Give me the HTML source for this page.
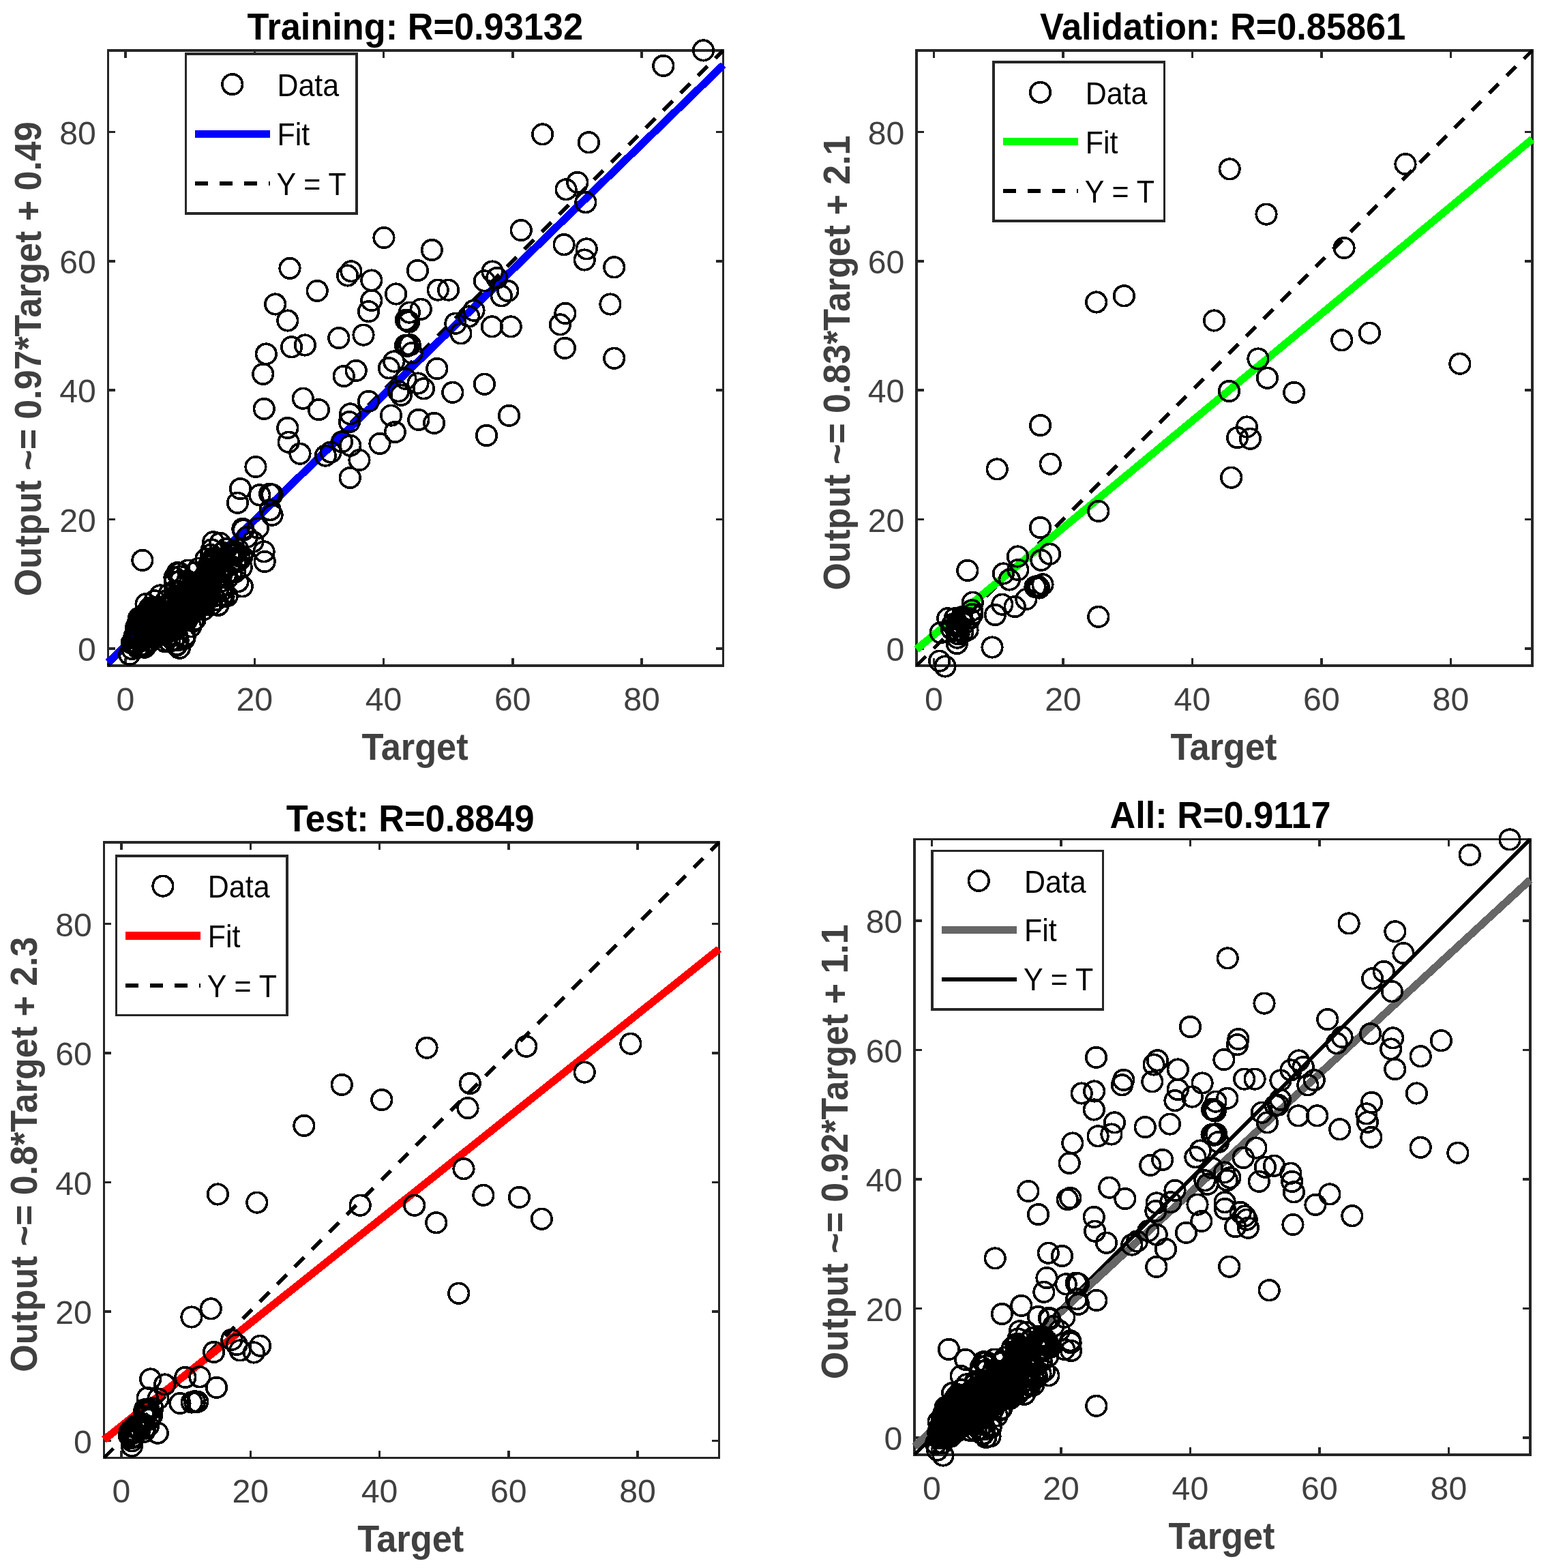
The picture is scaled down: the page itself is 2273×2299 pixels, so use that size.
<!DOCTYPE html>
<html lang="en"><head><meta charset="utf-8"><title>Regression plots</title>
<style>
html,body{margin:0;padding:0;background:#fff;}
body{width:2273px;height:2299px;overflow:hidden;}
svg{display:block;}
text{font-family:"Liberation Sans",Arial,Helvetica,sans-serif;}
.tk{font-size:49px;fill:#404040;}
.lb{font-size:55px;font-weight:bold;fill:#404040;}
.tt{font-size:55px;font-weight:bold;fill:#000;}
.lg{font-size:46.2px;fill:#000;}
.ax{stroke:#262626;stroke-width:3.5;fill:none;}
.d circle{r:14.75px;}
.d{fill:none;stroke:#000;stroke-width:3.7;}
</style></head><body>
<svg xmlns="http://www.w3.org/2000/svg" width="2273" height="2299" viewBox="0 0 2273 2299" shape-rendering="crispEdges">
<rect x="0" y="0" width="2273" height="2299" fill="#ffffff"/>
<g id="panel1">
<path class="ax" d="M158.5 74H1060.5V976H158.5Z"/>
<path class="ax" d="M184 976v-10.8M184 74v10.8M158.5 951h10.8M1060.5 951h-10.8M373.3 976v-10.8M373.3 74v10.8M158.5 761.6h10.8M1060.5 761.6h-10.8M562.5 976v-10.8M562.5 74v10.8M158.5 572.2h10.8M1060.5 572.2h-10.8M751.8 976v-10.8M751.8 74v10.8M158.5 382.9h10.8M1060.5 382.9h-10.8M941 976v-10.8M941 74v10.8M158.5 193.5h10.8M1060.5 193.5h-10.8"/>
<text class="tk" text-anchor="middle" transform="translate(184 1041.6) scale(0.985 1)">0</text>
<text class="tk" text-anchor="end" transform="translate(140.9 969) scale(0.985 1)">0</text>
<text class="tk" text-anchor="middle" transform="translate(373.3 1041.6) scale(0.985 1)">20</text>
<text class="tk" text-anchor="end" transform="translate(140.9 779.6) scale(0.985 1)">20</text>
<text class="tk" text-anchor="middle" transform="translate(562.5 1041.6) scale(0.985 1)">40</text>
<text class="tk" text-anchor="end" transform="translate(140.9 590.2) scale(0.985 1)">40</text>
<text class="tk" text-anchor="middle" transform="translate(751.8 1041.6) scale(0.985 1)">60</text>
<text class="tk" text-anchor="end" transform="translate(140.9 400.9) scale(0.985 1)">60</text>
<text class="tk" text-anchor="middle" transform="translate(941 1041.6) scale(0.985 1)">80</text>
<text class="tk" text-anchor="end" transform="translate(140.9 211.5) scale(0.985 1)">80</text>
<text class="tt" text-anchor="middle" transform="translate(608.7 58) scale(0.951 1)">Training: R=0.93132</text>
<text class="lb" text-anchor="middle" transform="translate(608.6 1113.9) scale(0.952 1)">Target</text>
<text class="lb" text-anchor="middle" transform="translate(60.1 526.3) rotate(-90) scale(0.944 1)">Output ~= 0.97*Target + 0.49</text>
<line x1="158.5" y1="976" x2="1060.5" y2="74" stroke="#000" stroke-width="5.6" stroke-dasharray="19.55 16.43"/>
<line x1="158.5" y1="971.3" x2="1060.6" y2="95.4" stroke="#0000ff" stroke-width="11.2"/>
<g class="d">
<circle cx="1031.5" cy="73.9" r="14.75"/><circle cx="972.8" cy="96.4" r="14.75"/><circle cx="795.6" cy="196.9" r="14.75"/><circle cx="863.4" cy="208.8" r="14.75"/><circle cx="846.8" cy="267.4" r="14.75"/><circle cx="830.1" cy="277.8" r="14.75"/><circle cx="858.9" cy="296.7" r="14.75"/><circle cx="764.2" cy="337.6" r="14.75"/><circle cx="827.1" cy="358.7" r="14.75"/><circle cx="860.2" cy="364.9" r="14.75"/><circle cx="857.2" cy="381" r="14.75"/><circle cx="900.7" cy="391.8" r="14.75"/><circle cx="894.9" cy="446" r="14.75"/><circle cx="828.9" cy="459.4" r="14.75"/><circle cx="821.4" cy="475.9" r="14.75"/><circle cx="828.4" cy="510.4" r="14.75"/><circle cx="900.7" cy="525.3" r="14.75"/><circle cx="563" cy="348.5" r="14.75"/><circle cx="633.4" cy="366.5" r="14.75"/><circle cx="612.4" cy="396.6" r="14.75"/><circle cx="514.9" cy="397.8" r="14.75"/><circle cx="509.6" cy="404" r="14.75"/><circle cx="544.8" cy="411" r="14.75"/>
<circle cx="580.6" cy="431" r="14.75"/><circle cx="544.8" cy="440.5" r="14.75"/><circle cx="540.5" cy="456.7" r="14.75"/><circle cx="642.2" cy="425.1" r="14.75"/><circle cx="657.6" cy="425.1" r="14.75"/><circle cx="617.3" cy="453.3" r="14.75"/><circle cx="600.4" cy="458.1" r="14.75"/><circle cx="595.3" cy="469.1" r="14.75"/><circle cx="597.5" cy="470.6" r="14.75"/><circle cx="599.7" cy="472" r="14.75"/><circle cx="722.1" cy="398" r="14.75"/><circle cx="710.4" cy="411.9" r="14.75"/><circle cx="728.7" cy="407.5" r="14.75"/><circle cx="744.8" cy="426.6" r="14.75"/><circle cx="735.3" cy="433.9" r="14.75"/><circle cx="695" cy="455.2" r="14.75"/><circle cx="687.7" cy="464" r="14.75"/><circle cx="667.9" cy="474.2" r="14.75"/><circle cx="675.9" cy="488.9" r="14.75"/><circle cx="721.4" cy="478.9" r="14.75"/><circle cx="749.2" cy="478.9" r="14.75"/><circle cx="533" cy="491.1" r="14.75"/><circle cx="496.8" cy="495.6" r="14.75"/>
<circle cx="594.6" cy="506.5" r="14.75"/><circle cx="597.5" cy="507.2" r="14.75"/><circle cx="601.2" cy="505.8" r="14.75"/><circle cx="604.1" cy="517.5" r="14.75"/><circle cx="577.7" cy="530" r="14.75"/><circle cx="570.4" cy="539.7" r="14.75"/><circle cx="522.2" cy="543.5" r="14.75"/><circle cx="504.3" cy="551.5" r="14.75"/><circle cx="640.8" cy="540.5" r="14.75"/><circle cx="710.4" cy="563.2" r="14.75"/><circle cx="595" cy="555.5" r="14.75"/><circle cx="613" cy="562" r="14.75"/><circle cx="621.4" cy="569.8" r="14.75"/><circle cx="584.4" cy="573.8" r="14.75"/><circle cx="588.4" cy="579.3" r="14.75"/><circle cx="663.8" cy="575.3" r="14.75"/><circle cx="540.5" cy="588.4" r="14.75"/><circle cx="513.6" cy="606.9" r="14.75"/><circle cx="512.4" cy="618.6" r="14.75"/><circle cx="573.5" cy="609.1" r="14.75"/><circle cx="613.8" cy="615.4" r="14.75"/><circle cx="636.6" cy="620.4" r="14.75"/><circle cx="746.5" cy="609.4" r="14.75"/>
<circle cx="713.5" cy="638.5" r="14.75"/><circle cx="579.4" cy="633.5" r="14.75"/><circle cx="557" cy="650.4" r="14.75"/><circle cx="501.4" cy="647.8" r="14.75"/><circle cx="513.7" cy="653.3" r="14.75"/><circle cx="527" cy="674.5" r="14.75"/><circle cx="513.3" cy="700.5" r="14.75"/><circle cx="485" cy="663" r="14.75"/><circle cx="477.3" cy="668.1" r="14.75"/><circle cx="467.4" cy="600.6" r="14.75"/><circle cx="425" cy="393.4" r="14.75"/><circle cx="465.2" cy="426.4" r="14.75"/><circle cx="403.7" cy="446" r="14.75"/><circle cx="421.8" cy="470" r="14.75"/><circle cx="427.6" cy="508.8" r="14.75"/><circle cx="447.4" cy="506" r="14.75"/><circle cx="390.3" cy="519" r="14.75"/><circle cx="385.7" cy="548.4" r="14.75"/><circle cx="444.3" cy="584.2" r="14.75"/><circle cx="387.3" cy="599.4" r="14.75"/><circle cx="421.8" cy="627.4" r="14.75"/><circle cx="423.2" cy="648.2" r="14.75"/><circle cx="440" cy="665.2" r="14.75"/>
<circle cx="375" cy="684.5" r="14.75"/><circle cx="352.5" cy="716.6" r="14.75"/><circle cx="348.4" cy="737.3" r="14.75"/><circle cx="380.7" cy="725.8" r="14.75"/><circle cx="395.7" cy="724.1" r="14.75"/><circle cx="399.1" cy="725.2" r="14.75"/><circle cx="396.2" cy="747.7" r="14.75"/><circle cx="399.1" cy="755.2" r="14.75"/><circle cx="355.9" cy="775.3" r="14.75"/><circle cx="357" cy="777" r="14.75"/><circle cx="378.4" cy="774.2" r="14.75"/><circle cx="370.9" cy="794.3" r="14.75"/><circle cx="362.3" cy="787.4" r="14.75"/><circle cx="387.1" cy="808.8" r="14.75"/><circle cx="388.2" cy="823.5" r="14.75"/><circle cx="355" cy="816" r="14.75"/><circle cx="355.3" cy="859.8" r="14.75"/><circle cx="208.9" cy="821.4" r="14.75"/><circle cx="263.3" cy="950.3" r="14.75"/><circle cx="320.2" cy="886.8" r="14.75"/><circle cx="312.8" cy="794.7" r="14.75"/><circle cx="260" cy="839.7" r="14.75"/><circle cx="189.8" cy="959.6" r="14.75"/>
<circle cx="193.1" cy="943.1" r="14.75"/><circle cx="199.2" cy="920.9" r="14.75"/><circle cx="203.6" cy="906.4" r="14.75"/><circle cx="214.1" cy="885.5" r="14.75"/><circle cx="235" cy="872.9" r="14.75"/><circle cx="256" cy="866.6" r="14.75"/><circle cx="256" cy="846.8" r="14.75"/><circle cx="260" cy="840" r="14.75"/><circle cx="275.7" cy="836.1" r="14.75"/><circle cx="291.6" cy="833.1" r="14.75"/><circle cx="302" cy="819.5" r="14.75"/><circle cx="310.4" cy="805.9" r="14.75"/><circle cx="322.8" cy="796.3" r="14.75"/><circle cx="349" cy="805.7" r="14.75"/><circle cx="354.2" cy="831.9" r="14.75"/><circle cx="349" cy="852.8" r="14.75"/><circle cx="333.2" cy="873.8" r="14.75"/><circle cx="319.8" cy="887.4" r="14.75"/><circle cx="298.7" cy="893.7" r="14.75"/><circle cx="286.1" cy="908.3" r="14.75"/><circle cx="279.8" cy="918.8" r="14.75"/><circle cx="270.4" cy="936.6" r="14.75"/><circle cx="263.1" cy="950.4" r="14.75"/>
<circle cx="242.1" cy="940.8" r="14.75"/><circle cx="221.2" cy="939.7" r="14.75"/><circle cx="211.8" cy="949.2" r="14.75"/><circle cx="277.9" cy="856" r="14.75"/><circle cx="259.6" cy="931.3" r="14.75"/><circle cx="284.7" cy="861.1" r="14.75"/><circle cx="330.9" cy="843.6" r="14.75"/><circle cx="240.5" cy="929.6" r="14.75"/><circle cx="219.5" cy="891.3" r="14.75"/><circle cx="294.8" cy="857.1" r="14.75"/><circle cx="301.7" cy="866.1" r="14.75"/><circle cx="241.4" cy="891.9" r="14.75"/><circle cx="264.3" cy="845.3" r="14.75"/><circle cx="229.9" cy="890.1" r="14.75"/><circle cx="309.7" cy="843.3" r="14.75"/><circle cx="350.9" cy="815.6" r="14.75"/><circle cx="258.5" cy="919.9" r="14.75"/><circle cx="333.7" cy="847.5" r="14.75"/><circle cx="285.1" cy="870.8" r="14.75"/><circle cx="267.7" cy="904.8" r="14.75"/><circle cx="324.9" cy="842.8" r="14.75"/><circle cx="253.2" cy="905.5" r="14.75"/><circle cx="199.5" cy="921.8" r="14.75"/>
<circle cx="254.1" cy="938.6" r="14.75"/><circle cx="248.8" cy="940.7" r="14.75"/><circle cx="347.3" cy="820.9" r="14.75"/><circle cx="286.7" cy="839.2" r="14.75"/><circle cx="250.5" cy="888.8" r="14.75"/><circle cx="274.5" cy="897.2" r="14.75"/><circle cx="266.4" cy="875.3" r="14.75"/><circle cx="326.1" cy="822.7" r="14.75"/><circle cx="193.6" cy="951.6" r="14.75"/><circle cx="217.3" cy="922.4" r="14.75"/><circle cx="227.1" cy="880.8" r="14.75"/><circle cx="232.4" cy="909.4" r="14.75"/><circle cx="328" cy="874.6" r="14.75"/><circle cx="313.1" cy="874.4" r="14.75"/><circle cx="219.1" cy="925.2" r="14.75"/><circle cx="244.5" cy="927.1" r="14.75"/><circle cx="309" cy="824.1" r="14.75"/><circle cx="213.8" cy="931.3" r="14.75"/><circle cx="247.4" cy="885.9" r="14.75"/><circle cx="261.1" cy="938.7" r="14.75"/><circle cx="325.6" cy="830.8" r="14.75"/><circle cx="229.3" cy="892.1" r="14.75"/><circle cx="211.3" cy="944.9" r="14.75"/>
<circle cx="248" cy="871.1" r="14.75"/><circle cx="259" cy="946.2" r="14.75"/><circle cx="272.3" cy="883.1" r="14.75"/><circle cx="309" cy="887.2" r="14.75"/><circle cx="243.4" cy="880.9" r="14.75"/><circle cx="316.8" cy="879.2" r="14.75"/><circle cx="290.5" cy="878.9" r="14.75"/><circle cx="274" cy="909.4" r="14.75"/><circle cx="264.2" cy="883.4" r="14.75"/><circle cx="344.7" cy="838.7" r="14.75"/><circle cx="327.9" cy="818.7" r="14.75"/><circle cx="215.2" cy="913.2" r="14.75"/><circle cx="255.3" cy="875.9" r="14.75"/><circle cx="274.6" cy="851.7" r="14.75"/><circle cx="280.9" cy="868.2" r="14.75"/><circle cx="292.4" cy="880" r="14.75"/><circle cx="259.2" cy="945.1" r="14.75"/><circle cx="324.4" cy="838.5" r="14.75"/><circle cx="214.4" cy="946.4" r="14.75"/><circle cx="283.6" cy="910.7" r="14.75"/><circle cx="302.9" cy="865.8" r="14.75"/><circle cx="201.7" cy="949.5" r="14.75"/><circle cx="203.6" cy="936.1" r="14.75"/>
<circle cx="200.8" cy="937.2" r="14.75"/><circle cx="264.4" cy="851.7" r="14.75"/><circle cx="314.7" cy="843.7" r="14.75"/><circle cx="310.3" cy="886.3" r="14.75"/><circle cx="343.5" cy="813.7" r="14.75"/><circle cx="324.4" cy="866.9" r="14.75"/><circle cx="271.2" cy="932.6" r="14.75"/><circle cx="254.4" cy="879" r="14.75"/><circle cx="246.1" cy="932.2" r="14.75"/><circle cx="256.3" cy="853.1" r="14.75"/><circle cx="201.4" cy="917.3" r="14.75"/><circle cx="203.7" cy="933.7" r="14.75"/><circle cx="267.8" cy="878.4" r="14.75"/><circle cx="286.1" cy="882.7" r="14.75"/><circle cx="351.7" cy="820.7" r="14.75"/><circle cx="197" cy="932.7" r="14.75"/><circle cx="207" cy="932.8" r="14.75"/><circle cx="281.6" cy="898.8" r="14.75"/><circle cx="272.5" cy="883.7" r="14.75"/><circle cx="310.9" cy="837.5" r="14.75"/><circle cx="309.7" cy="829.8" r="14.75"/><circle cx="271" cy="858.8" r="14.75"/><circle cx="268.5" cy="907.9" r="14.75"/>
<circle cx="312" cy="846" r="14.75"/><circle cx="300.9" cy="843.8" r="14.75"/><circle cx="274.7" cy="872.2" r="14.75"/><circle cx="336.7" cy="828.8" r="14.75"/><circle cx="263.7" cy="840.2" r="14.75"/><circle cx="224.4" cy="891.3" r="14.75"/><circle cx="243.7" cy="910.1" r="14.75"/><circle cx="249.9" cy="912.5" r="14.75"/><circle cx="213.7" cy="906" r="14.75"/><circle cx="203.2" cy="931.6" r="14.75"/><circle cx="251.1" cy="917.1" r="14.75"/><circle cx="249" cy="919" r="14.75"/><circle cx="278.8" cy="896.4" r="14.75"/><circle cx="287.8" cy="895.2" r="14.75"/><circle cx="201.2" cy="916.1" r="14.75"/><circle cx="280.2" cy="885.2" r="14.75"/><circle cx="282.3" cy="877.3" r="14.75"/><circle cx="255.6" cy="900.5" r="14.75"/><circle cx="214.4" cy="924.9" r="14.75"/><circle cx="207.7" cy="917.4" r="14.75"/><circle cx="216.6" cy="895.9" r="14.75"/><circle cx="204.2" cy="947.1" r="14.75"/><circle cx="279.5" cy="890.3" r="14.75"/>
<circle cx="203.1" cy="912.1" r="14.75"/><circle cx="220.2" cy="913.7" r="14.75"/><circle cx="234.6" cy="901" r="14.75"/><circle cx="197.3" cy="944.8" r="14.75"/><circle cx="219.7" cy="922.6" r="14.75"/><circle cx="221.8" cy="932.8" r="14.75"/><circle cx="259.8" cy="887.2" r="14.75"/><circle cx="212.6" cy="924" r="14.75"/><circle cx="261.8" cy="886.1" r="14.75"/><circle cx="295.7" cy="879.5" r="14.75"/><circle cx="195" cy="940.3" r="14.75"/><circle cx="247" cy="924.8" r="14.75"/><circle cx="232.4" cy="920.9" r="14.75"/><circle cx="239.7" cy="930" r="14.75"/><circle cx="263" cy="894.9" r="14.75"/><circle cx="258.3" cy="914.4" r="14.75"/><circle cx="202" cy="917" r="14.75"/><circle cx="274.6" cy="895.4" r="14.75"/><circle cx="202.4" cy="926.5" r="14.75"/><circle cx="271.2" cy="904.8" r="14.75"/><circle cx="226.7" cy="920.3" r="14.75"/><circle cx="229.6" cy="919.3" r="14.75"/><circle cx="215.2" cy="899.1" r="14.75"/>
<circle cx="258.3" cy="889.2" r="14.75"/><circle cx="208.3" cy="904.7" r="14.75"/><circle cx="217" cy="897.6" r="14.75"/><circle cx="263.1" cy="904.5" r="14.75"/><circle cx="228.3" cy="934.2" r="14.75"/><circle cx="227.6" cy="930.1" r="14.75"/><circle cx="285.9" cy="882.4" r="14.75"/><circle cx="263.5" cy="900.4" r="14.75"/><circle cx="269.7" cy="879.1" r="14.75"/><circle cx="273" cy="877.4" r="14.75"/><circle cx="271.1" cy="906.8" r="14.75"/><circle cx="237.1" cy="930.1" r="14.75"/><circle cx="294.5" cy="869.5" r="14.75"/><circle cx="235.2" cy="910.9" r="14.75"/><circle cx="265.9" cy="879.6" r="14.75"/><circle cx="216.9" cy="939.4" r="14.75"/><circle cx="288.8" cy="892" r="14.75"/><circle cx="282.6" cy="876.9" r="14.75"/><circle cx="230.5" cy="929.8" r="14.75"/><circle cx="250.9" cy="924.2" r="14.75"/><circle cx="299.3" cy="869.4" r="14.75"/><circle cx="217.8" cy="907.3" r="14.75"/><circle cx="225.5" cy="924.7" r="14.75"/>
<circle cx="264.6" cy="907" r="14.75"/><circle cx="227.9" cy="894.8" r="14.75"/><circle cx="216.3" cy="935.2" r="14.75"/><circle cx="253" cy="905.3" r="14.75"/><circle cx="237.9" cy="930.9" r="14.75"/><circle cx="256" cy="904.2" r="14.75"/><circle cx="253.3" cy="897.6" r="14.75"/><circle cx="223.2" cy="902.7" r="14.75"/><circle cx="246.4" cy="889.3" r="14.75"/><circle cx="214.4" cy="915.1" r="14.75"/><circle cx="296.6" cy="873.1" r="14.75"/><circle cx="269.9" cy="889.7" r="14.75"/><circle cx="232.8" cy="915.3" r="14.75"/><circle cx="204.7" cy="924.9" r="14.75"/><circle cx="206.8" cy="905.9" r="14.75"/><circle cx="252.4" cy="899.6" r="14.75"/><circle cx="235.1" cy="897.6" r="14.75"/><circle cx="215.9" cy="916.3" r="14.75"/><circle cx="264.5" cy="907.5" r="14.75"/><circle cx="289" cy="882" r="14.75"/><circle cx="294.1" cy="889.2" r="14.75"/><circle cx="292.4" cy="873.5" r="14.75"/><circle cx="219.8" cy="924.5" r="14.75"/>
<circle cx="281.5" cy="872.8" r="14.75"/><circle cx="238.1" cy="920.9" r="14.75"/><circle cx="301.5" cy="871.9" r="14.75"/><circle cx="249.3" cy="921" r="14.75"/><circle cx="254.8" cy="906.3" r="14.75"/><circle cx="296.8" cy="870.2" r="14.75"/><circle cx="199.9" cy="943.8" r="14.75"/><circle cx="244.8" cy="927.8" r="14.75"/><circle cx="229.6" cy="902.2" r="14.75"/><circle cx="250.7" cy="899" r="14.75"/><circle cx="213.3" cy="901" r="14.75"/><circle cx="275.8" cy="896.9" r="14.75"/><circle cx="263.5" cy="896.8" r="14.75"/><circle cx="260.2" cy="905.4" r="14.75"/><circle cx="284.2" cy="896.9" r="14.75"/><circle cx="278.7" cy="896.9" r="14.75"/><circle cx="231.3" cy="902.3" r="14.75"/><circle cx="267.6" cy="891.1" r="14.75"/><circle cx="266.9" cy="911" r="14.75"/><circle cx="252.7" cy="895.5" r="14.75"/><circle cx="221.7" cy="896.5" r="14.75"/><circle cx="254.6" cy="905.7" r="14.75"/><circle cx="198.1" cy="942" r="14.75"/>
<circle cx="210.9" cy="902.6" r="14.75"/><circle cx="326.7" cy="859.3" r="14.75"/><circle cx="345.4" cy="809.1" r="14.75"/><circle cx="316.4" cy="819.7" r="14.75"/><circle cx="321.4" cy="845.9" r="14.75"/><circle cx="303.7" cy="873.3" r="14.75"/><circle cx="336.3" cy="812.8" r="14.75"/><circle cx="338.4" cy="811.1" r="14.75"/><circle cx="326.4" cy="810.1" r="14.75"/><circle cx="304.4" cy="876.9" r="14.75"/><circle cx="321.1" cy="854.2" r="14.75"/><circle cx="298.7" cy="875.3" r="14.75"/><circle cx="344.9" cy="823.9" r="14.75"/><circle cx="309.2" cy="813.3" r="14.75"/><circle cx="305.2" cy="848.2" r="14.75"/><circle cx="307.6" cy="824.8" r="14.75"/><circle cx="339.8" cy="838.5" r="14.75"/><circle cx="306.2" cy="838.5" r="14.75"/><circle cx="332.2" cy="804.6" r="14.75"/><circle cx="309.5" cy="846.3" r="14.75"/><circle cx="298.2" cy="860.5" r="14.75"/><circle cx="308.1" cy="828.4" r="14.75"/>
<circle cx="320.2" cy="862" r="14.75"/><circle cx="292.2" cy="859.9" r="14.75"/><circle cx="325.9" cy="873.4" r="14.75"/><circle cx="307.8" cy="873.9" r="14.75"/><circle cx="321.5" cy="825" r="14.75"/><circle cx="312.2" cy="819" r="14.75"/><circle cx="324.8" cy="866.1" r="14.75"/><circle cx="315.5" cy="833.7" r="14.75"/><circle cx="341.2" cy="810.4" r="14.75"/>
</g>
<rect x="272.5" y="79" width="250.5" height="234" fill="#fff" stroke="#262626" stroke-width="3.5"/>
<circle cx="340.7" cy="123.6" r="14.75" fill="none" stroke="#000" stroke-width="3.7"/>
<line x1="286" y1="196.3" x2="396.2" y2="196.3" stroke="#0000ff" stroke-width="11.2"/>
<line x1="286" y1="269" x2="396.2" y2="269" stroke="#000" stroke-width="5.6" stroke-dasharray="19 17.1"/>
<text class="lg" transform="translate(406.4 140.9) scale(0.93 1)">Data</text>
<text class="lg" transform="translate(406.4 213.2) scale(0.93 1)">Fit</text>
<text class="lg" transform="translate(405.4 285.5) scale(0.93 1)">Y = T</text>
</g>
<g id="panel2">
<path class="ax" d="M1344 74H2247V976H1344Z"/>
<path class="ax" d="M1369.5 976v-10.8M1369.5 74v10.8M1344 951h10.8M2247 951h-10.8M1559 976v-10.8M1559 74v10.8M1344 761.6h10.8M2247 761.6h-10.8M1748.4 976v-10.8M1748.4 74v10.8M1344 572.2h10.8M2247 572.2h-10.8M1937.9 976v-10.8M1937.9 74v10.8M1344 382.9h10.8M2247 382.9h-10.8M2127.4 976v-10.8M2127.4 74v10.8M1344 193.5h10.8M2247 193.5h-10.8"/>
<text class="tk" text-anchor="middle" transform="translate(1369.5 1041.6) scale(0.985 1)">0</text>
<text class="tk" text-anchor="end" transform="translate(1326.4 969) scale(0.985 1)">0</text>
<text class="tk" text-anchor="middle" transform="translate(1559 1041.6) scale(0.985 1)">20</text>
<text class="tk" text-anchor="end" transform="translate(1326.4 779.6) scale(0.985 1)">20</text>
<text class="tk" text-anchor="middle" transform="translate(1748.4 1041.6) scale(0.985 1)">40</text>
<text class="tk" text-anchor="end" transform="translate(1326.4 590.2) scale(0.985 1)">40</text>
<text class="tk" text-anchor="middle" transform="translate(1937.9 1041.6) scale(0.985 1)">60</text>
<text class="tk" text-anchor="end" transform="translate(1326.4 400.9) scale(0.985 1)">60</text>
<text class="tk" text-anchor="middle" transform="translate(2127.4 1041.6) scale(0.985 1)">80</text>
<text class="tk" text-anchor="end" transform="translate(1326.4 211.5) scale(0.985 1)">80</text>
<text class="tt" text-anchor="middle" transform="translate(1793.1 58) scale(0.951 1)">Validation: R=0.85861</text>
<text class="lb" text-anchor="middle" transform="translate(1794.5 1113.6) scale(0.952 1)">Target</text>
<text class="lb" text-anchor="middle" transform="translate(1246.3 532.1) rotate(-90) scale(0.944 1)">Output ~= 0.83*Target + 2.1</text>
<line x1="1344" y1="976" x2="2247" y2="74" stroke="#000" stroke-width="5.6" stroke-dasharray="19.55 16.43"/>
<line x1="1344" y1="952" x2="2247" y2="204" stroke="#00ff00" stroke-width="11.2"/>
<g class="d">
<circle cx="1607.7" cy="443" r="14.75"/><circle cx="1648.4" cy="433.8" r="14.75"/><circle cx="1780.5" cy="470" r="14.75"/><circle cx="1803.2" cy="247.9" r="14.75"/><circle cx="1857" cy="314.1" r="14.75"/><circle cx="2061" cy="240.6" r="14.75"/><circle cx="1971.1" cy="363.5" r="14.75"/><circle cx="1967.7" cy="498.8" r="14.75"/><circle cx="2008.4" cy="488.2" r="14.75"/><circle cx="1844.9" cy="526" r="14.75"/><circle cx="1858.4" cy="554.2" r="14.75"/><circle cx="1802.5" cy="573.5" r="14.75"/><circle cx="1897.7" cy="575.4" r="14.75"/><circle cx="2140.9" cy="533.2" r="14.75"/><circle cx="1828.5" cy="626" r="14.75"/><circle cx="1814.6" cy="641.6" r="14.75"/><circle cx="1833.4" cy="643.3" r="14.75"/><circle cx="1805.7" cy="700.2" r="14.75"/><circle cx="1525.6" cy="623.6" r="14.75"/><circle cx="1462.2" cy="687.9" r="14.75"/><circle cx="1540.3" cy="680.2" r="14.75"/><circle cx="1610.8" cy="749.5" r="14.75"/>
<circle cx="1525.5" cy="773.5" r="14.75"/><circle cx="1418.8" cy="836.4" r="14.75"/><circle cx="1610.8" cy="904.3" r="14.75"/><circle cx="1455" cy="949" r="14.75"/><circle cx="1492.4" cy="816" r="14.75"/><circle cx="1539.5" cy="812.3" r="14.75"/><circle cx="1526.9" cy="821.3" r="14.75"/><circle cx="1492.9" cy="835.5" r="14.75"/><circle cx="1471.4" cy="841" r="14.75"/><circle cx="1480.3" cy="850" r="14.75"/><circle cx="1529" cy="856.8" r="14.75"/><circle cx="1521.7" cy="859.4" r="14.75"/><circle cx="1518" cy="860.4" r="14.75"/><circle cx="1523.8" cy="862" r="14.75"/><circle cx="1504.9" cy="878.6" r="14.75"/><circle cx="1469.8" cy="886.2" r="14.75"/><circle cx="1488.2" cy="889.6" r="14.75"/><circle cx="1459.4" cy="901.5" r="14.75"/><circle cx="1426.3" cy="883.2" r="14.75"/><circle cx="1425.3" cy="894.8" r="14.75"/><circle cx="1389.7" cy="906.8" r="14.75"/><circle cx="1400.2" cy="906.8" r="14.75"/>
<circle cx="1379.2" cy="927.7" r="14.75"/><circle cx="1377.6" cy="969.1" r="14.75"/><circle cx="1386" cy="977" r="14.75"/><circle cx="1403.3" cy="913.1" r="14.75"/><circle cx="1406.4" cy="918.3" r="14.75"/><circle cx="1409.6" cy="909.9" r="14.75"/><circle cx="1402.3" cy="923.6" r="14.75"/><circle cx="1403.3" cy="928.8" r="14.75"/><circle cx="1403.8" cy="935.1" r="14.75"/><circle cx="1403.3" cy="943.5" r="14.75"/><circle cx="1419" cy="923.6" r="14.75"/><circle cx="1422.1" cy="906.8" r="14.75"/><circle cx="1425.8" cy="900.5" r="14.75"/><circle cx="1413.8" cy="914.1" r="14.75"/><circle cx="1410.6" cy="904.7" r="14.75"/><circle cx="1397" cy="915.2" r="14.75"/><circle cx="1406" cy="929.9" r="14.75"/><circle cx="1395.4" cy="922.1" r="14.75"/><circle cx="1411.7" cy="927.2" r="14.75"/><circle cx="1403.3" cy="915.9" r="14.75"/><circle cx="1404.6" cy="925.1" r="14.75"/>
</g>
<rect x="1457" y="91" width="250.5" height="233" fill="#fff" stroke="#262626" stroke-width="3.5"/>
<circle cx="1525.5" cy="135.4" r="14.75" fill="none" stroke="#000" stroke-width="3.7"/>
<line x1="1470.9" y1="207.5" x2="1581.2" y2="207.5" stroke="#00ff00" stroke-width="11.2"/>
<line x1="1470.9" y1="280" x2="1581.2" y2="280" stroke="#000" stroke-width="5.6" stroke-dasharray="19 17.1"/>
<text class="lg" transform="translate(1591.7 152.7) scale(0.93 1)">Data</text>
<text class="lg" transform="translate(1591.7 225) scale(0.93 1)">Fit</text>
<text class="lg" transform="translate(1590.7 296.8) scale(0.93 1)">Y = T</text>
</g>
<g id="panel3">
<path class="ax" d="M152.5 1235H1054.5V2137.5H152.5Z"/>
<path class="ax" d="M178 2137.5v-10.8M178 1235v10.8M152.5 2112.5h10.8M1054.5 2112.5h-10.8M367.3 2137.5v-10.8M367.3 1235v10.8M152.5 1923h10.8M1054.5 1923h-10.8M556.5 2137.5v-10.8M556.5 1235v10.8M152.5 1733.5h10.8M1054.5 1733.5h-10.8M745.8 2137.5v-10.8M745.8 1235v10.8M152.5 1544.1h10.8M1054.5 1544.1h-10.8M935 2137.5v-10.8M935 1235v10.8M152.5 1354.6h10.8M1054.5 1354.6h-10.8"/>
<text class="tk" text-anchor="middle" transform="translate(178 2203.1) scale(0.985 1)">0</text>
<text class="tk" text-anchor="end" transform="translate(134.9 2130.5) scale(0.985 1)">0</text>
<text class="tk" text-anchor="middle" transform="translate(367.3 2203.1) scale(0.985 1)">20</text>
<text class="tk" text-anchor="end" transform="translate(134.9 1941) scale(0.985 1)">20</text>
<text class="tk" text-anchor="middle" transform="translate(556.5 2203.1) scale(0.985 1)">40</text>
<text class="tk" text-anchor="end" transform="translate(134.9 1751.5) scale(0.985 1)">40</text>
<text class="tk" text-anchor="middle" transform="translate(745.8 2203.1) scale(0.985 1)">60</text>
<text class="tk" text-anchor="end" transform="translate(134.9 1562.1) scale(0.985 1)">60</text>
<text class="tk" text-anchor="middle" transform="translate(935 2203.1) scale(0.985 1)">80</text>
<text class="tk" text-anchor="end" transform="translate(134.9 1372.6) scale(0.985 1)">80</text>
<text class="tt" text-anchor="middle" transform="translate(601.6 1219.3) scale(0.951 1)">Test: R=0.8849</text>
<text class="lb" text-anchor="middle" transform="translate(602.2 2274.9) scale(0.952 1)">Target</text>
<text class="lb" text-anchor="middle" transform="translate(54.3 1692.7) rotate(-90) scale(0.944 1)">Output ~= 0.8*Target + 2.3</text>
<line x1="152.5" y1="2137.5" x2="1054.5" y2="1235" stroke="#000" stroke-width="5.6" stroke-dasharray="19.55 16.43"/>
<line x1="152.6" y1="2111" x2="1054.5" y2="1391.5" stroke="#ff0000" stroke-width="11.2"/>
<g class="d">
<circle cx="501.3" cy="1590.4" r="14.75"/><circle cx="559.8" cy="1612.6" r="14.75"/><circle cx="445.9" cy="1650.4" r="14.75"/><circle cx="626" cy="1536.2" r="14.75"/><circle cx="771.7" cy="1534.3" r="14.75"/><circle cx="689.4" cy="1588.5" r="14.75"/><circle cx="686" cy="1624.6" r="14.75"/><circle cx="857.2" cy="1572.1" r="14.75"/><circle cx="924.9" cy="1530.2" r="14.75"/><circle cx="319.4" cy="1751" r="14.75"/><circle cx="376.8" cy="1763.1" r="14.75"/><circle cx="528.2" cy="1767.2" r="14.75"/><circle cx="280.9" cy="1931" r="14.75"/><circle cx="309.3" cy="1918.9" r="14.75"/><circle cx="313.6" cy="1982.4" r="14.75"/><circle cx="339.9" cy="1964.2" r="14.75"/><circle cx="347.1" cy="1971.4" r="14.75"/><circle cx="351.9" cy="1979.9" r="14.75"/><circle cx="372.4" cy="1983" r="14.75"/><circle cx="381.6" cy="1973.3" r="14.75"/><circle cx="220.7" cy="2022" r="14.75"/><circle cx="241.7" cy="2030" r="14.75"/>
<circle cx="271.8" cy="2019.4" r="14.75"/><circle cx="292.9" cy="2018.8" r="14.75"/><circle cx="317.5" cy="2034.4" r="14.75"/><circle cx="264" cy="2057.5" r="14.75"/><circle cx="281.2" cy="2056" r="14.75"/><circle cx="285.5" cy="2054.8" r="14.75"/><circle cx="289.7" cy="2055.3" r="14.75"/><circle cx="216.2" cy="2049.3" r="14.75"/><circle cx="231.9" cy="2051" r="14.75"/><circle cx="231.3" cy="2101.2" r="14.75"/><circle cx="680" cy="1713.7" r="14.75"/><circle cx="607.7" cy="1767.2" r="14.75"/><circle cx="639.7" cy="1792.7" r="14.75"/><circle cx="708.9" cy="1752.3" r="14.75"/><circle cx="761.4" cy="1755.4" r="14.75"/><circle cx="794.4" cy="1787.2" r="14.75"/><circle cx="672.7" cy="1896.3" r="14.75"/><circle cx="212.3" cy="2066.8" r="14.75"/><circle cx="215.4" cy="2071" r="14.75"/><circle cx="218.5" cy="2067.9" r="14.75"/><circle cx="222.7" cy="2075.2" r="14.75"/><circle cx="219.6" cy="2080.4" r="14.75"/>
<circle cx="213.3" cy="2077.3" r="14.75"/><circle cx="223.8" cy="2064.7" r="14.75"/><circle cx="190.3" cy="2099.3" r="14.75"/><circle cx="193.4" cy="2102.4" r="14.75"/><circle cx="195.5" cy="2097.2" r="14.75"/><circle cx="189.2" cy="2104.5" r="14.75"/><circle cx="202.8" cy="2096.1" r="14.75"/><circle cx="211.2" cy="2099.3" r="14.75"/><circle cx="198.6" cy="2090.9" r="14.75"/><circle cx="217.5" cy="2090.9" r="14.75"/><circle cx="192.4" cy="2108.7" r="14.75"/><circle cx="193.4" cy="2112.9" r="14.75"/><circle cx="193.4" cy="2120.2" r="14.75"/><circle cx="211.1" cy="2076.1" r="14.75"/><circle cx="213.4" cy="2077.4" r="14.75"/><circle cx="217.8" cy="2066.1" r="14.75"/><circle cx="211.5" cy="2069.6" r="14.75"/><circle cx="221.5" cy="2074.7" r="14.75"/><circle cx="218.1" cy="2067.9" r="14.75"/><circle cx="201.1" cy="2093.5" r="14.75"/><circle cx="191.7" cy="2097.6" r="14.75"/><circle cx="211.8" cy="2094.6" r="14.75"/>
<circle cx="205.2" cy="2095.5" r="14.75"/><circle cx="195.9" cy="2106.4" r="14.75"/><circle cx="212.8" cy="2094.1" r="14.75"/>
</g>
<rect x="170.5" y="1255" width="250.5" height="233.5" fill="#fff" stroke="#262626" stroke-width="3.5"/>
<circle cx="238.9" cy="1299.1" r="14.75" fill="none" stroke="#000" stroke-width="3.7"/>
<line x1="184" y1="1371.9" x2="294.2" y2="1371.9" stroke="#ff0000" stroke-width="11.2"/>
<line x1="184" y1="1444.9" x2="294.2" y2="1444.9" stroke="#000" stroke-width="5.6" stroke-dasharray="19 17.1"/>
<text class="lg" transform="translate(304.8 1315.6) scale(0.93 1)">Data</text>
<text class="lg" transform="translate(304.8 1388.6) scale(0.93 1)">Fit</text>
<text class="lg" transform="translate(303.8 1461.6) scale(0.93 1)">Y = T</text>
</g>
<g id="panel4">
<path class="ax" d="M1341 1230.5H2244V2133H1341Z"/>
<path class="ax" d="M1366.5 2133v-10.8M1366.5 1230.5v10.8M1341 2108h10.8M2244 2108h-10.8M1556 2133v-10.8M1556 1230.5v10.8M1341 1918.5h10.8M2244 1918.5h-10.8M1745.4 2133v-10.8M1745.4 1230.5v10.8M1341 1729h10.8M2244 1729h-10.8M1934.9 2133v-10.8M1934.9 1230.5v10.8M1341 1539.6h10.8M2244 1539.6h-10.8M2124.4 2133v-10.8M2124.4 1230.5v10.8M1341 1350.1h10.8M2244 1350.1h-10.8"/>
<text class="tk" text-anchor="middle" transform="translate(1366.5 2198.6) scale(0.985 1)">0</text>
<text class="tk" text-anchor="end" transform="translate(1323.4 2126) scale(0.985 1)">0</text>
<text class="tk" text-anchor="middle" transform="translate(1556 2198.6) scale(0.985 1)">20</text>
<text class="tk" text-anchor="end" transform="translate(1323.4 1936.5) scale(0.985 1)">20</text>
<text class="tk" text-anchor="middle" transform="translate(1745.4 2198.6) scale(0.985 1)">40</text>
<text class="tk" text-anchor="end" transform="translate(1323.4 1747) scale(0.985 1)">40</text>
<text class="tk" text-anchor="middle" transform="translate(1934.9 2198.6) scale(0.985 1)">60</text>
<text class="tk" text-anchor="end" transform="translate(1323.4 1557.6) scale(0.985 1)">60</text>
<text class="tk" text-anchor="middle" transform="translate(2124.4 2198.6) scale(0.985 1)">80</text>
<text class="tk" text-anchor="end" transform="translate(1323.4 1368.1) scale(0.985 1)">80</text>
<text class="tt" text-anchor="middle" transform="translate(1789.6 1213.9) scale(0.951 1)">All: R=0.9117</text>
<text class="lb" text-anchor="middle" transform="translate(1791.5 2270.9) scale(0.952 1)">Target</text>
<text class="lb" text-anchor="middle" transform="translate(1243.1 1688.8) rotate(-90) scale(0.944 1)">Output ~= 0.92*Target + 1.1</text>
<line x1="1341" y1="2133" x2="2244" y2="1230.5" stroke="#000" stroke-width="5.6"/>
<line x1="1341" y1="2121" x2="2244" y2="1290" stroke="#666666" stroke-width="11.2"/>
<g class="d">
<circle cx="2214" cy="1230.9" r="14.75"/><circle cx="2155.3" cy="1253.4" r="14.75"/><circle cx="1978.1" cy="1353.9" r="14.75"/><circle cx="2045.9" cy="1365.8" r="14.75"/><circle cx="2029.3" cy="1424.4" r="14.75"/><circle cx="2012.6" cy="1434.8" r="14.75"/><circle cx="2041.4" cy="1453.7" r="14.75"/><circle cx="1946.7" cy="1494.6" r="14.75"/><circle cx="2009.6" cy="1515.7" r="14.75"/><circle cx="2042.7" cy="1521.9" r="14.75"/><circle cx="2039.7" cy="1538" r="14.75"/><circle cx="2083.2" cy="1548.8" r="14.75"/><circle cx="2077.4" cy="1603" r="14.75"/><circle cx="2011.4" cy="1616.4" r="14.75"/><circle cx="2003.9" cy="1632.9" r="14.75"/><circle cx="2010.9" cy="1667.4" r="14.75"/><circle cx="2083.2" cy="1682.3" r="14.75"/><circle cx="1745.5" cy="1505.5" r="14.75"/><circle cx="1815.9" cy="1523.5" r="14.75"/><circle cx="1794.9" cy="1553.6" r="14.75"/><circle cx="1697.4" cy="1554.8" r="14.75"/><circle cx="1692.1" cy="1561" r="14.75"/>
<circle cx="1727.3" cy="1568" r="14.75"/><circle cx="1763.1" cy="1588" r="14.75"/><circle cx="1727.3" cy="1597.5" r="14.75"/><circle cx="1723" cy="1613.7" r="14.75"/><circle cx="1824.7" cy="1582.1" r="14.75"/><circle cx="1840.1" cy="1582.1" r="14.75"/><circle cx="1799.8" cy="1610.3" r="14.75"/><circle cx="1782.9" cy="1615.1" r="14.75"/><circle cx="1777.8" cy="1626.1" r="14.75"/><circle cx="1780" cy="1627.6" r="14.75"/><circle cx="1782.2" cy="1629" r="14.75"/><circle cx="1904.6" cy="1555" r="14.75"/><circle cx="1892.9" cy="1568.9" r="14.75"/><circle cx="1911.2" cy="1564.5" r="14.75"/><circle cx="1927.3" cy="1583.6" r="14.75"/><circle cx="1917.8" cy="1590.9" r="14.75"/><circle cx="1877.5" cy="1612.2" r="14.75"/><circle cx="1870.2" cy="1621" r="14.75"/><circle cx="1850.4" cy="1631.2" r="14.75"/><circle cx="1858.4" cy="1645.9" r="14.75"/><circle cx="1903.9" cy="1635.9" r="14.75"/><circle cx="1931.7" cy="1635.9" r="14.75"/>
<circle cx="1715.5" cy="1648.1" r="14.75"/><circle cx="1679.3" cy="1652.6" r="14.75"/><circle cx="1777.1" cy="1663.5" r="14.75"/><circle cx="1780" cy="1664.2" r="14.75"/><circle cx="1783.7" cy="1662.8" r="14.75"/><circle cx="1786.6" cy="1674.5" r="14.75"/><circle cx="1760.2" cy="1687" r="14.75"/><circle cx="1752.9" cy="1696.7" r="14.75"/><circle cx="1704.7" cy="1700.5" r="14.75"/><circle cx="1686.8" cy="1708.5" r="14.75"/><circle cx="1823.3" cy="1697.5" r="14.75"/><circle cx="1892.9" cy="1720.2" r="14.75"/><circle cx="1777.5" cy="1712.5" r="14.75"/><circle cx="1795.5" cy="1719" r="14.75"/><circle cx="1803.9" cy="1726.8" r="14.75"/><circle cx="1766.9" cy="1730.8" r="14.75"/><circle cx="1770.9" cy="1736.3" r="14.75"/><circle cx="1846.3" cy="1732.3" r="14.75"/><circle cx="1723" cy="1745.4" r="14.75"/><circle cx="1696.1" cy="1763.9" r="14.75"/><circle cx="1694.9" cy="1775.6" r="14.75"/><circle cx="1756" cy="1766.1" r="14.75"/>
<circle cx="1796.3" cy="1772.4" r="14.75"/><circle cx="1819.1" cy="1777.4" r="14.75"/><circle cx="1929" cy="1766.4" r="14.75"/><circle cx="1896" cy="1795.5" r="14.75"/><circle cx="1761.9" cy="1790.5" r="14.75"/><circle cx="1739.5" cy="1807.4" r="14.75"/><circle cx="1683.9" cy="1804.8" r="14.75"/><circle cx="1696.2" cy="1810.3" r="14.75"/><circle cx="1709.5" cy="1831.5" r="14.75"/><circle cx="1695.8" cy="1857.5" r="14.75"/><circle cx="1667.5" cy="1820" r="14.75"/><circle cx="1659.8" cy="1825.1" r="14.75"/><circle cx="1649.9" cy="1757.6" r="14.75"/><circle cx="1607.5" cy="1550.4" r="14.75"/><circle cx="1647.7" cy="1583.4" r="14.75"/><circle cx="1586.2" cy="1603" r="14.75"/><circle cx="1604.3" cy="1627" r="14.75"/><circle cx="1610.1" cy="1665.8" r="14.75"/><circle cx="1629.9" cy="1663" r="14.75"/><circle cx="1572.8" cy="1676" r="14.75"/><circle cx="1568.2" cy="1705.4" r="14.75"/><circle cx="1626.8" cy="1741.2" r="14.75"/>
<circle cx="1569.8" cy="1756.4" r="14.75"/><circle cx="1604.3" cy="1784.4" r="14.75"/><circle cx="1605.7" cy="1805.2" r="14.75"/><circle cx="1622.5" cy="1822.2" r="14.75"/><circle cx="1557.5" cy="1841.5" r="14.75"/><circle cx="1535" cy="1873.6" r="14.75"/><circle cx="1530.9" cy="1894.3" r="14.75"/><circle cx="1563.2" cy="1882.8" r="14.75"/><circle cx="1578.2" cy="1881.1" r="14.75"/><circle cx="1581.6" cy="1882.2" r="14.75"/><circle cx="1578.7" cy="1904.7" r="14.75"/><circle cx="1581.6" cy="1912.2" r="14.75"/><circle cx="1538.4" cy="1932.3" r="14.75"/><circle cx="1539.5" cy="1934" r="14.75"/><circle cx="1560.9" cy="1931.2" r="14.75"/><circle cx="1553.4" cy="1951.3" r="14.75"/><circle cx="1544.8" cy="1944.4" r="14.75"/><circle cx="1569.6" cy="1965.8" r="14.75"/><circle cx="1570.7" cy="1980.5" r="14.75"/><circle cx="1537.5" cy="1973" r="14.75"/><circle cx="1537.8" cy="2016.8" r="14.75"/><circle cx="1391.4" cy="1978.4" r="14.75"/>
<circle cx="1445.8" cy="2107.3" r="14.75"/><circle cx="1502.7" cy="2043.8" r="14.75"/><circle cx="1495.3" cy="1951.7" r="14.75"/><circle cx="1442.5" cy="1996.7" r="14.75"/><circle cx="1372.3" cy="2116.6" r="14.75"/><circle cx="1375.6" cy="2100.1" r="14.75"/><circle cx="1381.7" cy="2077.9" r="14.75"/><circle cx="1386.1" cy="2063.4" r="14.75"/><circle cx="1396.6" cy="2042.5" r="14.75"/><circle cx="1417.5" cy="2029.9" r="14.75"/><circle cx="1438.5" cy="2023.6" r="14.75"/><circle cx="1438.5" cy="2003.8" r="14.75"/><circle cx="1442.5" cy="1997" r="14.75"/><circle cx="1458.2" cy="1993.1" r="14.75"/><circle cx="1474.1" cy="1990.1" r="14.75"/><circle cx="1484.5" cy="1976.5" r="14.75"/><circle cx="1492.9" cy="1962.9" r="14.75"/><circle cx="1505.3" cy="1953.3" r="14.75"/><circle cx="1531.5" cy="1962.7" r="14.75"/><circle cx="1536.7" cy="1988.9" r="14.75"/><circle cx="1531.5" cy="2009.8" r="14.75"/>
<circle cx="1515.7" cy="2030.8" r="14.75"/><circle cx="1502.3" cy="2044.4" r="14.75"/><circle cx="1481.2" cy="2050.7" r="14.75"/><circle cx="1468.6" cy="2065.3" r="14.75"/><circle cx="1462.3" cy="2075.8" r="14.75"/><circle cx="1452.9" cy="2093.6" r="14.75"/><circle cx="1445.6" cy="2107.4" r="14.75"/><circle cx="1424.6" cy="2097.8" r="14.75"/><circle cx="1403.7" cy="2096.7" r="14.75"/><circle cx="1394.3" cy="2106.2" r="14.75"/><circle cx="1460.4" cy="2013" r="14.75"/><circle cx="1442.1" cy="2088.3" r="14.75"/><circle cx="1467.2" cy="2018.1" r="14.75"/><circle cx="1513.4" cy="2000.6" r="14.75"/><circle cx="1423" cy="2086.6" r="14.75"/><circle cx="1402" cy="2048.3" r="14.75"/><circle cx="1477.3" cy="2014.1" r="14.75"/><circle cx="1484.2" cy="2023.1" r="14.75"/><circle cx="1423.9" cy="2048.9" r="14.75"/><circle cx="1446.8" cy="2002.3" r="14.75"/><circle cx="1412.4" cy="2047.1" r="14.75"/><circle cx="1492.2" cy="2000.3" r="14.75"/>
<circle cx="1533.4" cy="1972.6" r="14.75"/><circle cx="1441" cy="2076.9" r="14.75"/><circle cx="1516.2" cy="2004.5" r="14.75"/><circle cx="1467.6" cy="2027.8" r="14.75"/><circle cx="1450.2" cy="2061.8" r="14.75"/><circle cx="1507.4" cy="1999.8" r="14.75"/><circle cx="1435.7" cy="2062.5" r="14.75"/><circle cx="1382" cy="2078.8" r="14.75"/><circle cx="1436.6" cy="2095.6" r="14.75"/><circle cx="1431.3" cy="2097.7" r="14.75"/><circle cx="1529.8" cy="1977.9" r="14.75"/><circle cx="1469.2" cy="1996.2" r="14.75"/><circle cx="1433" cy="2045.8" r="14.75"/><circle cx="1457" cy="2054.2" r="14.75"/><circle cx="1448.9" cy="2032.3" r="14.75"/><circle cx="1508.6" cy="1979.7" r="14.75"/><circle cx="1376.1" cy="2108.6" r="14.75"/><circle cx="1399.8" cy="2079.4" r="14.75"/><circle cx="1409.6" cy="2037.8" r="14.75"/><circle cx="1414.9" cy="2066.4" r="14.75"/><circle cx="1510.5" cy="2031.6" r="14.75"/><circle cx="1495.6" cy="2031.4" r="14.75"/>
<circle cx="1401.6" cy="2082.2" r="14.75"/><circle cx="1427" cy="2084.1" r="14.75"/><circle cx="1491.5" cy="1981.1" r="14.75"/><circle cx="1396.3" cy="2088.3" r="14.75"/><circle cx="1429.9" cy="2042.9" r="14.75"/><circle cx="1443.6" cy="2095.7" r="14.75"/><circle cx="1508.1" cy="1987.8" r="14.75"/><circle cx="1411.8" cy="2049.1" r="14.75"/><circle cx="1393.8" cy="2101.9" r="14.75"/><circle cx="1430.5" cy="2028.1" r="14.75"/><circle cx="1441.5" cy="2103.2" r="14.75"/><circle cx="1454.8" cy="2040.1" r="14.75"/><circle cx="1491.5" cy="2044.2" r="14.75"/><circle cx="1425.9" cy="2037.9" r="14.75"/><circle cx="1499.3" cy="2036.2" r="14.75"/><circle cx="1473" cy="2035.9" r="14.75"/><circle cx="1456.5" cy="2066.4" r="14.75"/><circle cx="1446.7" cy="2040.4" r="14.75"/><circle cx="1527.2" cy="1995.7" r="14.75"/><circle cx="1510.4" cy="1975.7" r="14.75"/><circle cx="1397.7" cy="2070.2" r="14.75"/><circle cx="1437.8" cy="2032.9" r="14.75"/>
<circle cx="1457.1" cy="2008.7" r="14.75"/><circle cx="1463.4" cy="2025.2" r="14.75"/><circle cx="1474.9" cy="2037" r="14.75"/><circle cx="1441.7" cy="2102.1" r="14.75"/><circle cx="1506.9" cy="1995.5" r="14.75"/><circle cx="1396.9" cy="2103.4" r="14.75"/><circle cx="1466.1" cy="2067.7" r="14.75"/><circle cx="1485.4" cy="2022.8" r="14.75"/><circle cx="1384.2" cy="2106.5" r="14.75"/><circle cx="1386.1" cy="2093.1" r="14.75"/><circle cx="1383.3" cy="2094.2" r="14.75"/><circle cx="1446.9" cy="2008.7" r="14.75"/><circle cx="1497.2" cy="2000.7" r="14.75"/><circle cx="1492.8" cy="2043.3" r="14.75"/><circle cx="1526" cy="1970.7" r="14.75"/><circle cx="1506.9" cy="2023.9" r="14.75"/><circle cx="1453.7" cy="2089.6" r="14.75"/><circle cx="1436.9" cy="2036" r="14.75"/><circle cx="1428.6" cy="2089.2" r="14.75"/><circle cx="1438.8" cy="2010.1" r="14.75"/><circle cx="1383.9" cy="2074.3" r="14.75"/><circle cx="1386.2" cy="2090.7" r="14.75"/>
<circle cx="1450.3" cy="2035.4" r="14.75"/><circle cx="1468.6" cy="2039.7" r="14.75"/><circle cx="1534.2" cy="1977.7" r="14.75"/><circle cx="1379.5" cy="2089.7" r="14.75"/><circle cx="1389.5" cy="2089.8" r="14.75"/><circle cx="1464.1" cy="2055.8" r="14.75"/><circle cx="1455" cy="2040.7" r="14.75"/><circle cx="1493.4" cy="1994.5" r="14.75"/><circle cx="1492.2" cy="1986.8" r="14.75"/><circle cx="1453.5" cy="2015.8" r="14.75"/><circle cx="1451" cy="2064.9" r="14.75"/><circle cx="1494.5" cy="2003" r="14.75"/><circle cx="1483.4" cy="2000.8" r="14.75"/><circle cx="1457.2" cy="2029.2" r="14.75"/><circle cx="1519.2" cy="1985.8" r="14.75"/><circle cx="1446.2" cy="1997.2" r="14.75"/><circle cx="1406.9" cy="2048.3" r="14.75"/><circle cx="1426.2" cy="2067.1" r="14.75"/><circle cx="1432.4" cy="2069.5" r="14.75"/><circle cx="1396.2" cy="2063" r="14.75"/><circle cx="1385.7" cy="2088.6" r="14.75"/><circle cx="1433.6" cy="2074.1" r="14.75"/>
<circle cx="1431.5" cy="2076" r="14.75"/><circle cx="1461.3" cy="2053.4" r="14.75"/><circle cx="1470.3" cy="2052.2" r="14.75"/><circle cx="1383.7" cy="2073.1" r="14.75"/><circle cx="1462.7" cy="2042.2" r="14.75"/><circle cx="1464.8" cy="2034.3" r="14.75"/><circle cx="1438.1" cy="2057.5" r="14.75"/><circle cx="1396.9" cy="2081.9" r="14.75"/><circle cx="1390.2" cy="2074.4" r="14.75"/><circle cx="1399.1" cy="2052.9" r="14.75"/><circle cx="1386.7" cy="2104.1" r="14.75"/><circle cx="1462" cy="2047.3" r="14.75"/><circle cx="1385.6" cy="2069.1" r="14.75"/><circle cx="1402.7" cy="2070.7" r="14.75"/><circle cx="1417.1" cy="2058" r="14.75"/><circle cx="1379.8" cy="2101.8" r="14.75"/><circle cx="1402.2" cy="2079.6" r="14.75"/><circle cx="1404.3" cy="2089.8" r="14.75"/><circle cx="1442.3" cy="2044.2" r="14.75"/><circle cx="1395.1" cy="2081" r="14.75"/><circle cx="1444.3" cy="2043.1" r="14.75"/><circle cx="1478.2" cy="2036.5" r="14.75"/>
<circle cx="1377.5" cy="2097.3" r="14.75"/><circle cx="1429.5" cy="2081.8" r="14.75"/><circle cx="1414.9" cy="2077.9" r="14.75"/><circle cx="1422.2" cy="2087" r="14.75"/><circle cx="1445.5" cy="2051.9" r="14.75"/><circle cx="1440.8" cy="2071.4" r="14.75"/><circle cx="1384.5" cy="2074" r="14.75"/><circle cx="1457.1" cy="2052.4" r="14.75"/><circle cx="1384.9" cy="2083.5" r="14.75"/><circle cx="1453.7" cy="2061.8" r="14.75"/><circle cx="1409.2" cy="2077.3" r="14.75"/><circle cx="1412.1" cy="2076.3" r="14.75"/><circle cx="1397.7" cy="2056.1" r="14.75"/><circle cx="1440.8" cy="2046.2" r="14.75"/><circle cx="1390.8" cy="2061.7" r="14.75"/><circle cx="1399.5" cy="2054.6" r="14.75"/><circle cx="1445.6" cy="2061.5" r="14.75"/><circle cx="1410.8" cy="2091.2" r="14.75"/><circle cx="1410.1" cy="2087.1" r="14.75"/><circle cx="1468.4" cy="2039.4" r="14.75"/><circle cx="1446" cy="2057.4" r="14.75"/><circle cx="1452.2" cy="2036.1" r="14.75"/>
<circle cx="1455.5" cy="2034.4" r="14.75"/><circle cx="1453.6" cy="2063.8" r="14.75"/><circle cx="1419.6" cy="2087.1" r="14.75"/><circle cx="1477" cy="2026.5" r="14.75"/><circle cx="1417.7" cy="2067.9" r="14.75"/><circle cx="1448.4" cy="2036.6" r="14.75"/><circle cx="1399.4" cy="2096.4" r="14.75"/><circle cx="1471.3" cy="2049" r="14.75"/><circle cx="1465.1" cy="2033.9" r="14.75"/><circle cx="1413" cy="2086.8" r="14.75"/><circle cx="1433.4" cy="2081.2" r="14.75"/><circle cx="1481.8" cy="2026.4" r="14.75"/><circle cx="1400.3" cy="2064.3" r="14.75"/><circle cx="1408" cy="2081.7" r="14.75"/><circle cx="1447.1" cy="2064" r="14.75"/><circle cx="1410.4" cy="2051.8" r="14.75"/><circle cx="1398.8" cy="2092.2" r="14.75"/><circle cx="1435.5" cy="2062.3" r="14.75"/><circle cx="1420.4" cy="2087.9" r="14.75"/><circle cx="1438.5" cy="2061.2" r="14.75"/><circle cx="1435.8" cy="2054.6" r="14.75"/><circle cx="1405.7" cy="2059.7" r="14.75"/>
<circle cx="1428.9" cy="2046.3" r="14.75"/><circle cx="1396.9" cy="2072.1" r="14.75"/><circle cx="1479.1" cy="2030.1" r="14.75"/><circle cx="1452.4" cy="2046.7" r="14.75"/><circle cx="1415.3" cy="2072.3" r="14.75"/><circle cx="1387.2" cy="2081.9" r="14.75"/><circle cx="1389.3" cy="2062.9" r="14.75"/><circle cx="1434.9" cy="2056.6" r="14.75"/><circle cx="1417.6" cy="2054.6" r="14.75"/><circle cx="1398.4" cy="2073.3" r="14.75"/><circle cx="1447" cy="2064.5" r="14.75"/><circle cx="1471.5" cy="2039" r="14.75"/><circle cx="1476.6" cy="2046.2" r="14.75"/><circle cx="1474.9" cy="2030.5" r="14.75"/><circle cx="1402.3" cy="2081.5" r="14.75"/><circle cx="1464" cy="2029.8" r="14.75"/><circle cx="1420.6" cy="2077.9" r="14.75"/><circle cx="1484" cy="2028.9" r="14.75"/><circle cx="1431.8" cy="2078" r="14.75"/><circle cx="1437.3" cy="2063.3" r="14.75"/><circle cx="1479.3" cy="2027.2" r="14.75"/><circle cx="1382.4" cy="2100.8" r="14.75"/>
<circle cx="1427.3" cy="2084.8" r="14.75"/><circle cx="1412.1" cy="2059.2" r="14.75"/><circle cx="1433.2" cy="2056" r="14.75"/><circle cx="1395.8" cy="2058" r="14.75"/><circle cx="1458.3" cy="2053.9" r="14.75"/><circle cx="1446" cy="2053.8" r="14.75"/><circle cx="1442.7" cy="2062.4" r="14.75"/><circle cx="1466.7" cy="2053.9" r="14.75"/><circle cx="1461.2" cy="2053.9" r="14.75"/><circle cx="1413.8" cy="2059.3" r="14.75"/><circle cx="1450.1" cy="2048.1" r="14.75"/><circle cx="1449.4" cy="2068" r="14.75"/><circle cx="1435.2" cy="2052.5" r="14.75"/><circle cx="1404.2" cy="2053.5" r="14.75"/><circle cx="1437.1" cy="2062.7" r="14.75"/><circle cx="1380.6" cy="2099" r="14.75"/><circle cx="1393.4" cy="2059.6" r="14.75"/><circle cx="1509.2" cy="2016.3" r="14.75"/><circle cx="1527.9" cy="1966.1" r="14.75"/><circle cx="1498.9" cy="1976.7" r="14.75"/><circle cx="1503.9" cy="2002.9" r="14.75"/><circle cx="1486.2" cy="2030.3" r="14.75"/>
<circle cx="1518.8" cy="1969.8" r="14.75"/><circle cx="1520.9" cy="1968.1" r="14.75"/><circle cx="1508.9" cy="1967.1" r="14.75"/><circle cx="1486.9" cy="2033.9" r="14.75"/><circle cx="1503.6" cy="2011.2" r="14.75"/><circle cx="1481.2" cy="2032.3" r="14.75"/><circle cx="1527.4" cy="1980.9" r="14.75"/><circle cx="1491.7" cy="1970.3" r="14.75"/><circle cx="1487.7" cy="2005.2" r="14.75"/><circle cx="1490.1" cy="1981.8" r="14.75"/><circle cx="1522.3" cy="1995.5" r="14.75"/><circle cx="1488.7" cy="1995.5" r="14.75"/><circle cx="1514.7" cy="1961.6" r="14.75"/><circle cx="1492" cy="2003.3" r="14.75"/><circle cx="1480.7" cy="2017.5" r="14.75"/><circle cx="1490.6" cy="1985.4" r="14.75"/><circle cx="1502.7" cy="2019" r="14.75"/><circle cx="1474.7" cy="2016.9" r="14.75"/><circle cx="1508.4" cy="2030.4" r="14.75"/><circle cx="1490.3" cy="2030.9" r="14.75"/><circle cx="1504" cy="1982" r="14.75"/><circle cx="1494.7" cy="1976" r="14.75"/>
<circle cx="1507.3" cy="2023.1" r="14.75"/><circle cx="1498" cy="1990.7" r="14.75"/><circle cx="1523.7" cy="1967.4" r="14.75"/><circle cx="1604.7" cy="1600" r="14.75"/><circle cx="1645.4" cy="1590.8" r="14.75"/><circle cx="1777.5" cy="1627" r="14.75"/><circle cx="1800.2" cy="1404.9" r="14.75"/><circle cx="1854" cy="1471.1" r="14.75"/><circle cx="2058" cy="1397.6" r="14.75"/><circle cx="1968.1" cy="1520.5" r="14.75"/><circle cx="1964.7" cy="1655.8" r="14.75"/><circle cx="2005.4" cy="1645.2" r="14.75"/><circle cx="1841.9" cy="1683" r="14.75"/><circle cx="1855.4" cy="1711.2" r="14.75"/><circle cx="1799.5" cy="1730.5" r="14.75"/><circle cx="1894.7" cy="1732.4" r="14.75"/><circle cx="2137.9" cy="1690.2" r="14.75"/><circle cx="1825.5" cy="1783" r="14.75"/><circle cx="1811.6" cy="1798.6" r="14.75"/><circle cx="1830.4" cy="1800.3" r="14.75"/><circle cx="1802.7" cy="1857.2" r="14.75"/><circle cx="1522.6" cy="1780.6" r="14.75"/>
<circle cx="1459.2" cy="1844.9" r="14.75"/><circle cx="1537.3" cy="1837.2" r="14.75"/><circle cx="1607.8" cy="1906.5" r="14.75"/><circle cx="1522.5" cy="1930.5" r="14.75"/><circle cx="1415.8" cy="1993.4" r="14.75"/><circle cx="1607.8" cy="2061.3" r="14.75"/><circle cx="1452" cy="2106" r="14.75"/><circle cx="1489.4" cy="1973" r="14.75"/><circle cx="1536.5" cy="1969.3" r="14.75"/><circle cx="1523.9" cy="1978.3" r="14.75"/><circle cx="1489.9" cy="1992.5" r="14.75"/><circle cx="1468.4" cy="1998" r="14.75"/><circle cx="1477.3" cy="2007" r="14.75"/><circle cx="1526" cy="2013.8" r="14.75"/><circle cx="1518.7" cy="2016.4" r="14.75"/><circle cx="1515" cy="2017.4" r="14.75"/><circle cx="1520.8" cy="2019" r="14.75"/><circle cx="1501.9" cy="2035.6" r="14.75"/><circle cx="1466.8" cy="2043.2" r="14.75"/><circle cx="1485.2" cy="2046.6" r="14.75"/><circle cx="1456.4" cy="2058.5" r="14.75"/><circle cx="1423.3" cy="2040.2" r="14.75"/>
<circle cx="1422.3" cy="2051.8" r="14.75"/><circle cx="1386.7" cy="2063.8" r="14.75"/><circle cx="1397.2" cy="2063.8" r="14.75"/><circle cx="1376.2" cy="2084.7" r="14.75"/><circle cx="1374.6" cy="2126.1" r="14.75"/><circle cx="1383" cy="2134" r="14.75"/><circle cx="1400.3" cy="2070.1" r="14.75"/><circle cx="1403.4" cy="2075.3" r="14.75"/><circle cx="1406.6" cy="2066.9" r="14.75"/><circle cx="1399.3" cy="2080.6" r="14.75"/><circle cx="1400.3" cy="2085.8" r="14.75"/><circle cx="1400.8" cy="2092.1" r="14.75"/><circle cx="1400.3" cy="2100.5" r="14.75"/><circle cx="1416" cy="2080.6" r="14.75"/><circle cx="1419.1" cy="2063.8" r="14.75"/><circle cx="1422.8" cy="2057.5" r="14.75"/><circle cx="1410.8" cy="2071.1" r="14.75"/><circle cx="1407.6" cy="2061.7" r="14.75"/><circle cx="1394" cy="2072.2" r="14.75"/><circle cx="1403" cy="2086.9" r="14.75"/><circle cx="1392.4" cy="2079.1" r="14.75"/><circle cx="1408.7" cy="2084.2" r="14.75"/>
<circle cx="1400.3" cy="2072.9" r="14.75"/><circle cx="1401.6" cy="2082.1" r="14.75"/><circle cx="1689.8" cy="1585.9" r="14.75"/><circle cx="1748.3" cy="1608.1" r="14.75"/><circle cx="1634.4" cy="1645.9" r="14.75"/><circle cx="1814.5" cy="1531.7" r="14.75"/><circle cx="1960.2" cy="1529.8" r="14.75"/><circle cx="1877.9" cy="1584" r="14.75"/><circle cx="1874.5" cy="1620.1" r="14.75"/><circle cx="2045.7" cy="1567.6" r="14.75"/><circle cx="2113.4" cy="1525.7" r="14.75"/><circle cx="1507.9" cy="1746.5" r="14.75"/><circle cx="1565.3" cy="1758.6" r="14.75"/><circle cx="1716.7" cy="1762.7" r="14.75"/><circle cx="1469.4" cy="1926.5" r="14.75"/><circle cx="1497.8" cy="1914.4" r="14.75"/><circle cx="1502.1" cy="1977.9" r="14.75"/><circle cx="1528.4" cy="1959.7" r="14.75"/><circle cx="1535.6" cy="1966.9" r="14.75"/><circle cx="1540.4" cy="1975.4" r="14.75"/><circle cx="1560.9" cy="1978.5" r="14.75"/>
<circle cx="1570.1" cy="1968.8" r="14.75"/><circle cx="1409.2" cy="2017.5" r="14.75"/><circle cx="1430.2" cy="2025.5" r="14.75"/><circle cx="1460.3" cy="2014.9" r="14.75"/><circle cx="1481.4" cy="2014.3" r="14.75"/><circle cx="1506" cy="2029.9" r="14.75"/><circle cx="1452.5" cy="2053" r="14.75"/><circle cx="1469.7" cy="2051.5" r="14.75"/><circle cx="1474" cy="2050.3" r="14.75"/><circle cx="1478.2" cy="2050.8" r="14.75"/><circle cx="1404.7" cy="2044.8" r="14.75"/><circle cx="1420.4" cy="2046.5" r="14.75"/><circle cx="1419.8" cy="2096.7" r="14.75"/><circle cx="1868.5" cy="1709.2" r="14.75"/><circle cx="1796.2" cy="1762.7" r="14.75"/><circle cx="1828.2" cy="1788.2" r="14.75"/><circle cx="1897.4" cy="1747.8" r="14.75"/><circle cx="1949.9" cy="1750.9" r="14.75"/><circle cx="1982.9" cy="1782.7" r="14.75"/><circle cx="1861.2" cy="1891.8" r="14.75"/><circle cx="1400.8" cy="2062.3" r="14.75"/><circle cx="1403.9" cy="2066.5" r="14.75"/>
<circle cx="1407" cy="2063.4" r="14.75"/><circle cx="1411.2" cy="2070.7" r="14.75"/><circle cx="1408.1" cy="2075.9" r="14.75"/><circle cx="1401.8" cy="2072.8" r="14.75"/><circle cx="1412.3" cy="2060.2" r="14.75"/><circle cx="1378.8" cy="2094.8" r="14.75"/><circle cx="1381.9" cy="2097.9" r="14.75"/><circle cx="1384" cy="2092.7" r="14.75"/><circle cx="1377.7" cy="2100" r="14.75"/><circle cx="1391.3" cy="2091.6" r="14.75"/><circle cx="1399.7" cy="2094.8" r="14.75"/><circle cx="1387.1" cy="2086.4" r="14.75"/><circle cx="1406" cy="2086.4" r="14.75"/><circle cx="1380.9" cy="2104.2" r="14.75"/><circle cx="1381.9" cy="2108.4" r="14.75"/><circle cx="1381.9" cy="2115.7" r="14.75"/><circle cx="1399.6" cy="2071.6" r="14.75"/><circle cx="1401.9" cy="2072.9" r="14.75"/><circle cx="1406.3" cy="2061.6" r="14.75"/><circle cx="1400" cy="2065.1" r="14.75"/><circle cx="1410" cy="2070.2" r="14.75"/><circle cx="1406.6" cy="2063.4" r="14.75"/>
<circle cx="1389.6" cy="2089" r="14.75"/><circle cx="1380.2" cy="2093.1" r="14.75"/><circle cx="1400.3" cy="2090.1" r="14.75"/><circle cx="1393.7" cy="2091" r="14.75"/><circle cx="1384.4" cy="2101.9" r="14.75"/><circle cx="1401.3" cy="2089.6" r="14.75"/>
</g>
<rect x="1367" y="1247.5" width="250.5" height="232.5" fill="#fff" stroke="#262626" stroke-width="3.5"/>
<circle cx="1435.3" cy="1291.4" r="14.75" fill="none" stroke="#000" stroke-width="3.7"/>
<line x1="1381.1" y1="1363.5" x2="1491.3" y2="1363.5" stroke="#666666" stroke-width="11.2"/>
<line x1="1381.1" y1="1435.7" x2="1491.3" y2="1435.7" stroke="#000" stroke-width="5.6"/>
<text class="lg" transform="translate(1501.9 1308.6) scale(0.93 1)">Data</text>
<text class="lg" transform="translate(1501.9 1380.2) scale(0.93 1)">Fit</text>
<text class="lg" transform="translate(1500.9 1452.4) scale(0.93 1)">Y = T</text>
</g>
</svg>
</body></html>
